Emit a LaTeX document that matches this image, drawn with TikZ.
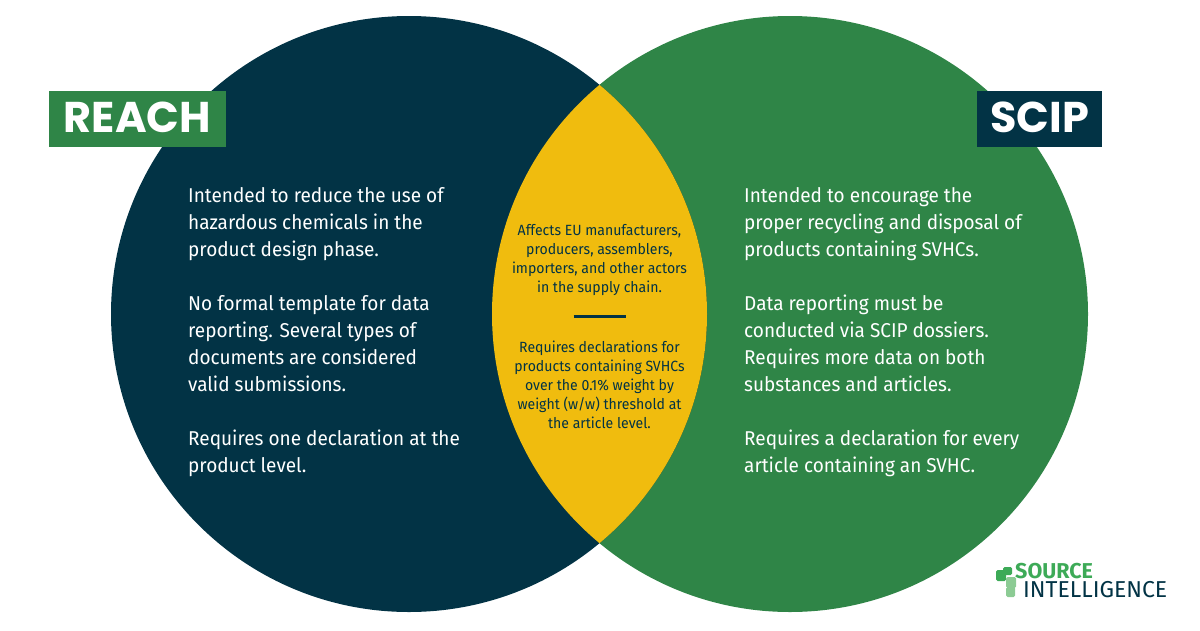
\documentclass[tikz,border=0pt]{standalone}
\usepackage{fontspec}
\setmainfont[FakeStretch=0.95]{Fira Sans}
\newfontfamily\headfont{Poppins}
\newfontfamily\logofont{Fira Sans}
\definecolor{reachblue}{HTML}{023345}
\definecolor{scipgreen}{HTML}{2F8547}
\definecolor{lensyellow}{HTML}{F0BC0E}
\definecolor{logolight}{HTML}{8CCB94}
\definecolor{logogreen}{HTML}{3DAA57}
\begin{document}
\begin{tikzpicture}[
    x=1pt, y=-1pt,
    headbox/.style={inner sep=0pt, minimum height=56pt, text=white, text height=27pt, text depth=0pt, font=\headfont\bfseries\fontsize{43}{43}\selectfont},
    bodytext/.style={anchor=north west, inner sep=0pt, text=white, align=left, font=\fontsize{20}{27}\selectfont},
    lenstext/.style={inner sep=0pt, text=reachblue, align=center, font=\fontsize{14.8}{19}\selectfont},
    logotext/.style={anchor=base west, inner sep=0pt, text height=14pt, text depth=0pt}
]
\useasboundingbox (0,0) rectangle (1200,630);

% the two circles and their overlap
\fill[scipgreen] (790,314) circle[radius=298pt];
\fill[reachblue] (409,314) circle[radius=298pt];
\begin{scope}
    \clip (409,314) circle[radius=298pt];
    \fill[lensyellow] (790,314) circle[radius=298pt];
\end{scope}

\node[headbox, fill=scipgreen, minimum width=177pt] (reach) at (137.5,119) {REACH};
\node[headbox, fill=reachblue, minimum width=125pt] (scip) at (1039.5,119) {SCIP};

\node[bodytext] (reachtext) at (188,187) {Intended to reduce the use of\\hazardous chemicals in the\\product design phase.\\[27pt]No formal template for data\\reporting. Several types of\\documents are considered\\valid submissions.\\[27pt]Requires one declaration at the\\product level.};
\node[bodytext] (sciptext) at (744,187) {Intended to encourage the\\proper recycling and disposal of\\products containing SVHCs.\\[27pt]Data reporting must be\\conducted via SCIP dossiers.\\Requires more data on both\\substances and articles.\\[27pt]Requires a declaration for every\\article containing an SVHC.};

\node[lenstext] (lenstop) at (599.5,260) {Affects EU manufacturers,\\producers, assemblers,\\importers, and other actors\\in the supply chain.};
\node[lenstext] (lensbottom) at (599.5,384.5) {Requires declarations for\\products containing SVHCs\\over the 0.1\% weight by\\weight (w/w) threshold at\\the article level.};
\coordinate (ruleleft) at (573.5,316);
\coordinate (ruleright) at (625.5,316);
\draw[reachblue, line width=3pt] (ruleleft) -- (ruleright);

% logo
\node[logotext, text=logogreen, font=\logofont\bfseries\fontsize{21.5}{21.5}\selectfont] (logotop) at (1015,578) {SOURCE};
\node[logotext, text=reachblue, font=\logofont\fontsize{23}{23}\selectfont] (logobottom) at (1023,597) {INTELLIGENCE};
\fill[logogreen, rounded corners=1.5pt] (996,570) rectangle (1006,581);
\fill[logogreen, rounded corners=1.5pt] (1003,567) rectangle (1012,575);
\fill[logolight, rounded corners=1.5pt] (1006,577) rectangle (1016,588);
\fill[logolight, rounded corners=1.5pt] (1006,587) rectangle (1015,597);
\end{tikzpicture}
\end{document}
